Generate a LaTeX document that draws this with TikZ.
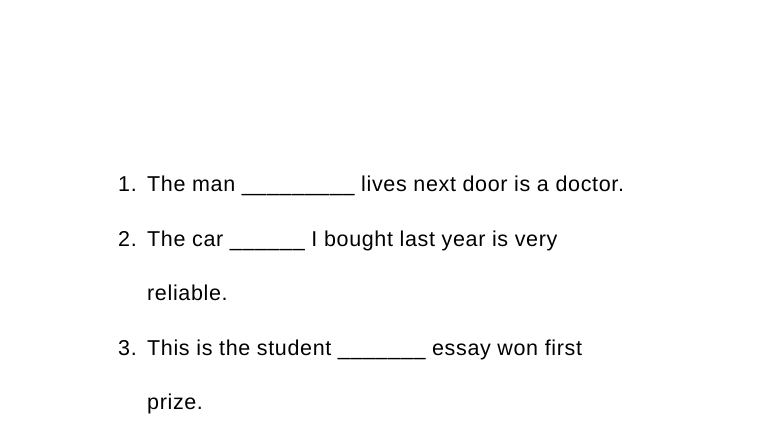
\documentclass[tikz,border=0pt]{standalone}
\usepackage{fontspec}
\setmainfont{Liberation Sans}[LetterSpace=3]
\begin{document}
\begin{tikzpicture}[x=1pt,y=1pt,txt/.style={anchor=base west,inner sep=0pt,font=\fontsize{21.5}{24}\selectfont}]
\useasboundingbox (0,0) rectangle (784,-441);
\node[txt] (n1) at (118,-191) {1.};
\node[txt] (t1) at (147,-191) {The man \_\_\_\_\_\_\_\_\_ lives next door is a doctor.};
\node[txt] (n2) at (118,-246) {2.};
\node[txt] (t2) at (147,-246) {The car \_\_\_\_\_\_ I bought last year is very};
\node[txt] (t2b) at (147,-300) {reliable.};
\node[txt] (n3) at (118,-355) {3.};
\node[txt] (t3) at (147,-355) {This is the student \_\_\_\_\_\_\_ essay won first};
\node[txt] (t3b) at (147,-409) {prize.};
\end{tikzpicture}
\end{document}
